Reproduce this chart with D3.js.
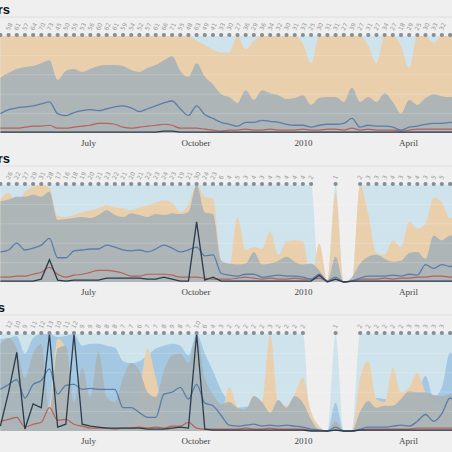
<!DOCTYPE html>
<html>
<head>
<meta charset="utf-8">
<script src="https://cdn.jsdelivr.net/npm/d3@7"></script>
<style>
  body { margin: 0; background: #efefef; }
  #chart { width: 452px; height: 452px; overflow: hidden; }
</style>
</head>
<body>
<div id="chart"></div>
<script>
// weekly points (Fridays)
const weeks = d3.timeFriday.range(new Date(2009, 3, 17), new Date(2010, 4, 15));
const tickDates = [new Date(2009, 6, 1), new Date(2009, 9, 1), new Date(2010, 0, 1), new Date(2010, 3, 1)];
const tickLabels = ["July", "October", "2010", "April"];
const titles = ["Readers", "Posters", "Comments"];

// panel 1 (percent of week)
const sky1 = [100,100,100,100,100,100,100,100,100,100,100,100,100,100,100,100,100,100,100,100,100,100,100,100,100,100,100,100,100,100,100,100,100,100,100,100,100,100,100,100,100,100,100,100,100,100,100,100,100,100,100,100,100,100,100,100,100];
const tan1 = [100,100,100,100,100,100,100,100,100,100,100,100,100,100,100,100,100,100,100,100,100,100,100,100,95,91,86,83,83,100,86,95,100,100,100,100,100,92,72,100,100,100,100,100,100,90,72,100,100,90,67,100,100,93,100,100,100];
const grey1 = [57,62,66,68,69,72,75,55,64,66,63,66,69,70,70,69,65,63,67,70,75,79,64,58,72,58,50,40,37,31,44,34,44,41,39,35,36,39,29,36,37,37,32,47,32,37,32,41,32,20,34,29,36,40,38,37,37];
const blue1 = [20,24,26,27,28,30,32,20,18,21,23,24,23,25,27,28,26,22,25,28,31,33,25,18,28,19,15,11,9,7,11,11,13,12,11,9,8,8,6,8,9,9,10,15,6,8,7,7,6,3,6,7,9,10,10,11,11];
const red1 = [5,5,5,6,7,7,8,5,5,6,7,8,10,10,9,6,5,6,7,8,9,8,5,5,5,4,3,2,3,3,4,3,3,4,3,3,3,4,3,3,4,4,3,5,3,4,3,3,3,2,3,4,4,4,4,4,4];
const dark1 = [1,1,1,1,1,1,1,1,1,1,1,1,1,1,1,1,1,1,1,1,2,2,1,1,1,1,1,1,1,1,1,1,1,1,1,1,1,1,1,1,1,1,1,1,1,1,1,1,1,1,1,1,1,1,1,1,1];
const count1 = [52,58,61,57,64,70,73,45,50,55,53,56,60,62,61,59,54,52,57,61,66,71,55,48,63,49,41,33,30,27,36,29,36,34,32,30,31,33,25,30,31,31,27,39,27,31,27,34,27,18,29,25,30,33,32,31,31];

// panel 2
const sky2 = [100,100,100,100,100,100,100,100,100,100,100,100,100,100,100,100,100,100,100,100,100,100,100,100,100,100,100,100,100,100,100,100,100,100,100,100,100,100,100,0,0,100,0,0,100,100,100,100,100,100,100,100,100,100,100,100,100];
const tan2 = [85,92,81,93,98,100,97,68,67,69,72,74,76,79,77,76,74,77,79,82,84,82,72,80,100,88,86,23,17,67,33,36,34,52,28,42,43,42,4,40,2,92,0,0,100,70,30,28,43,36,62,55,60,87,82,66,68];
const grey2 = [83,85,88,88,90,88,93,64,65,66,67,66,69,74,69,67,71,69,67,70,69,71,70,72,100,72,70,22,19,18,19,31,18,19,22,26,21,18,19,12,1,26,0,5,19,26,28,24,21,22,30,31,24,48,43,48,46];
const blue2 = [31,33,40,33,35,38,45,25,25,32,33,34,34,38,36,33,32,33,31,34,38,35,31,33,36,27,28,9,7,6,8,8,5,6,7,6,6,5,3,8,1,5,0,1,4,6,6,6,7,6,8,7,18,14,18,16,17];
const red2 = [5,5,6,6,8,10,15,8,5,7,8,10,12,12,11,9,6,6,8,8,8,7,5,5,5,4,3,3,3,4,5,4,3,4,3,3,4,3,3,4,1,3,0,1,3,3,3,4,3,4,4,5,5,6,6,5,5];
const dark2 = [1,1,1,1,1,3,23,2,1,2,2,2,2,4,4,4,4,4,3,3,5,3,1,1,62,2,5,1,1,1,1,1,1,1,1,1,1,1,1,7,0,3,0,1,1,1,1,1,1,1,1,1,1,1,1,1,1];
const count2 = [24,26,22,27,29,31,28,17,16,18,19,20,21,23,22,21,20,21,22,23,24,23,19,21,30,24,23,6,4,5,3,4,3,4,3,4,4,4,2,0,0,1,0,0,2,3,3,3,4,3,4,4,3,5,5,4,4];

// panel 3
const sky3 = [100,100,100,100,100,100,100,100,100,100,100,100,100,100,100,100,100,100,100,100,100,100,100,100,100,100,100,100,100,100,100,100,100,100,100,100,100,100,0,0,0,100,0,0,100,100,100,100,100,100,100,100,100,100,100,100,100];
const mid3 = [95,96,98,80,96,100,100,97,98,100,88,90,90,88,86,72,70,72,78,85,88,90,88,78,100,80,62,42,30,24,25,26,24,34,25,22,20,15,3,2,0,29,0,0,22,28,34,33,30,34,40,41,57,35,45,81,65];
const tan3 = [20,10,8,5,15,12,26,95,85,12,8,6,5,5,5,6,8,40,85,55,20,8,6,10,5,4,3,15,45,25,20,36,30,100,28,26,38,55,20,5,0,10,0,0,55,72,33,30,65,40,45,60,40,30,30,30,30];
const grey3 = [90,96,85,55,80,90,20,85,88,30,65,35,82,35,30,55,70,62,40,35,62,78,80,70,98,55,38,28,30,24,22,36,30,19,32,24,36,29,12,1,0,10,0,0,20,31,24,26,26,33,41,40,40,37,36,38,38];
const blue3 = [43,48,53,34,48,52,64,38,47,48,43,44,43,43,43,24,24,19,14,14,38,40,45,33,48,29,26,16,6,5,6,7,5,6,5,6,5,4,2,1,0,4,0,0,2,4,4,4,5,6,5,10,17,10,18,34,25];
const red3 = [10,12,14,4,7,9,24,11,12,7,5,3,3,3,2,3,3,4,3,4,3,5,5,9,3,2,2,2,2,2,3,2,2,3,2,2,2,2,1,1,0,1,0,0,1,2,2,2,2,2,2,3,3,3,3,3,3];
const dark3 = [5,40,81,2,28,24,100,4,7,100,7,5,4,3,3,3,3,3,2,2,2,3,4,3,100,2,1,1,1,1,1,1,1,1,1,1,1,1,0,0,0,1,0,0,1,1,1,1,1,1,1,1,1,1,1,1,1];
const count3 = [11,12,10,9,11,12,13,10,11,12,9,9,8,8,8,7,7,6,7,7,8,9,8,7,10,6,4,3,2,2,2,2,2,3,2,2,2,2,0,0,0,1,0,0,2,2,2,2,2,2,3,3,3,3,3,4,4];

const panels = [
  { title: titles[0], titleX: 10, sky: sky1, mid: null, tan: tan1, grey: grey1, blue: blue1, red: red1, dark: dark1, count: count1 },
  { title: titles[1], titleX: 10, sky: sky2, mid: null, tan: tan2, grey: grey2, blue: blue2, red: red2, dark: dark2, count: count2 },
  { title: titles[2], titleX: 5, sky: sky3, mid: mid3, tan: tan3, grey: grey3, blue: blue3, red: red3, dark: dark3, count: count3 }
];

const W = 452, H = 452, step = 149;
const plotTop = 36, plotBottom = 133;

const svg = d3.select("#chart").append("svg")
  .attr("width", W).attr("height", H)
  .style("background", "#efefef");

const x = d3.scaleTime().domain([tickDates[0], tickDates[3]]).range([88, 408]);
const y = d3.scaleLinear().domain([0, 100]).range([plotBottom, plotTop]);

panels.forEach((p, k) => {
  const g = svg.append("g").attr("transform", `translate(0,${k * step})`);

  // title is cropped at the left edge, as in the source picture
  g.append("text")
    .attr("x", p.titleX).attr("y", 14)
    .attr("text-anchor", "end")
    .style("font", "bold 13px 'Liberation Sans', Arial, sans-serif")
    .style("fill", "#111")
    .text(p.title);

  g.append("line")
    .attr("x1", 0).attr("x2", W).attr("y1", 17).attr("y2", 17)
    .style("stroke", "#dedede");

  const area = d3.area()
    .x((d, i) => x(weeks[i]))
    .y0(y(0))
    .y1(d => y(d))
    .curve(d3.curveMonotoneX);
  const line = d3.line()
    .x((d, i) => x(weeks[i]))
    .y(d => y(d))
    .curve(d3.curveMonotoneX);

  g.append("path").attr("d", area(p.sky)).style("fill", "#cfe3ed");
  if (p.mid) g.append("path").attr("d", area(p.mid)).style("fill", "#a5c8e2");
  g.append("path").attr("d", area(p.tan)).style("fill", "#eacfad");
  g.append("path").attr("d", area(p.grey)).style("fill", "#a8b3b6").style("opacity", 0.92);

  // faint grid
  g.selectAll(".grid").data([20, 40, 60, 80]).join("line")
    .attr("x1", 0).attr("x2", W)
    .attr("y1", d => y(d)).attr("y2", d => y(d))
    .style("stroke", "#fff").style("stroke-opacity", 0.18);

  g.append("path").attr("d", line(p.red))
    .style("fill", "none").style("stroke", "#b9605b").style("stroke-width", 1.2);
  g.append("path").attr("d", line(p.blue))
    .style("fill", "none").style("stroke", "#5a7dac").style("stroke-width", 1.3);
  g.append("path").attr("d", line.curve(d3.curveLinear)(p.dark))
    .style("fill", "none").style("stroke", "#2a3b4c").style("stroke-width", 1.3);

  // week markers with counts
  const pts = weeks.map((w, i) => ({ w, i })).filter(d => p.sky[d.i] > 0);
  g.selectAll(".dot").data(pts).join("circle")
    .attr("cx", d => x(d.w)).attr("cy", plotTop - 1)
    .attr("r", 2.1)
    .style("fill", "#858e94");
  g.selectAll(".lab").data(pts.filter(d => x(d.w) > 3 && x(d.w) < W - 6)).join("text")
    .attr("transform", d => `translate(${x(d.w) + 1},${plotTop - 5}) rotate(-65)`)
    .style("font", "6px 'DejaVu Sans', sans-serif")
    .style("fill", "#999")
    .text(d => p.count[d.i]);

  const axis = d3.axisBottom(x)
    .tickValues(tickDates)
    .tickFormat((d, i) => tickLabels[i])
    .tickSize(0).tickPadding(7);
  const ax = g.append("g").attr("transform", `translate(0,${plotBottom})`).call(axis);
  ax.select(".domain").remove();
  ax.selectAll("text")
    .style("font", "9px 'Liberation Serif', 'Times New Roman', serif")
    .style("fill", "#444");
});
</script>
</body>
</html>
